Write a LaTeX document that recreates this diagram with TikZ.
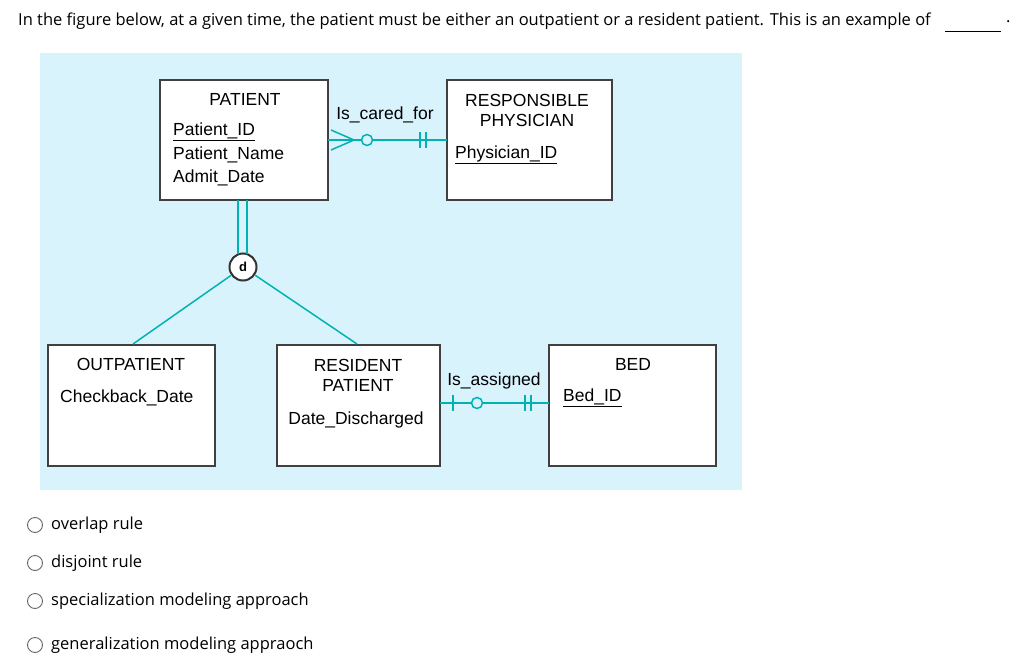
\documentclass[tikz,border=0pt]{standalone}
\usepackage{fontspec}
\setmainfont{Liberation Sans}
\newfontfamily\qfont{Open Sans}
\begin{document}
\begin{tikzpicture}[x=1pt,y=-1pt,
  ent/.style={draw=black!75,line width=1.3pt,fill=white},
  lab/.style={font=\fontsize{17.5}{20}\selectfont,inner sep=0pt},
  attr/.style={lab,anchor=west},
  rel/.style={draw=teal!60!cyan,line width=1.5pt},
  q/.style={font=\qfont\fontsize{16.5}{19}\selectfont,anchor=west,inner sep=0pt},
  radio/.style={draw=black!60,line width=0.9pt,fill=white}]
\useasboundingbox (0,0) rectangle (1024,671);
\fill[white] (0,0) rectangle (1024,671);
\node[q] (qt) at (18,21) {In the figure below, at a given time, the patient must be either an outpatient or a resident patient. This is an example of};
\coordinate (b1) at (945,31); \coordinate (b2) at (1001,31);
\draw[line width=0.8pt] (b1) -- (b2);
\node[q] (dot) at (1006,22) {.};
\fill[cyan!15] (40,53) rectangle (742,490);
% entities
\draw[ent] (160,80) rectangle (328,200);
\draw[ent] (447,80) rectangle (612,200);
\draw[ent] (48,345) rectangle (215,466);
\draw[ent] (277,345) rectangle (440,466);
\draw[ent] (549,345) rectangle (716,466);
\node[lab] (pt) at (245,99) {PATIENT};
\node[attr] (pid) at (173,132) {\underline{Patient\_ID}};
\node[attr] (pn) at (173,155) {Patient\_Name};
\node[attr] (ad) at (173,178) {Admit\_Date};
\node[lab,align=center] (rp) at (527,110) {RESPONSIBLE\\PHYSICIAN};
\node[attr] (phid) at (455,155) {\underline{Physician\_ID}};
\node[lab] (op) at (131,364) {OUTPATIENT};
\node[attr] (cb) at (60,398) {Checkback\_Date};
\node[lab,align=center] (rs) at (358,375) {RESIDENT\\PATIENT};
\node[lab] (dd) at (356,420) {Date\_Discharged};
\node[lab] (bed) at (633,364) {BED};
\node[attr] (bid) at (563,398) {\underline{Bed\_ID}};
% is_cared_for
\node[lab] (icf) at (385,115) {Is\_cared\_for};
\coordinate (c1) at (328,140); \coordinate (c2) at (447,140);
\draw[rel] (c1) -- (c2);
\draw[rel] (331,130) -- (354,140) -- (331,150);
\draw[rel,fill=cyan!15] (367,140) circle (5.5);
\draw[rel] (420,132) -- (420,148) (426,132) -- (426,148);
% is_assigned
\node[lab] (ias) at (494,381) {Is\_assigned};
\coordinate (a1) at (440,403); \coordinate (a2) at (549,403);
\draw[rel] (a1) -- (a2);
\draw[rel] (453,395) -- (453,411);
\draw[rel,fill=cyan!15] (477,403) circle (5.5);
\draw[rel] (525,395) -- (525,411) (531,395) -- (531,411);
% disjoint
\node[draw=black!80,line width=2pt,circle,fill=white,minimum size=27pt,inner sep=0pt,font=\bfseries\fontsize{13}{14}\selectfont] (d) at (243,267) {d};
\draw[rel] (238,200) -- (238,254) (247,200) -- (247,254);
\coordinate (e1) at (133,344); \coordinate (e2) at (357,344);
\draw[rel] (d) -- (e1); \draw[rel] (d) -- (e2);
% options
\foreach \y/\t in {525/overlap rule,563/disjoint rule,601/specialization modeling approach,645/generalization modeling appraoch}{
  \draw[radio] (35,\y) circle (7.5);
  \node[q] at (51,\y) {\t};
}
\end{tikzpicture}
\end{document}
